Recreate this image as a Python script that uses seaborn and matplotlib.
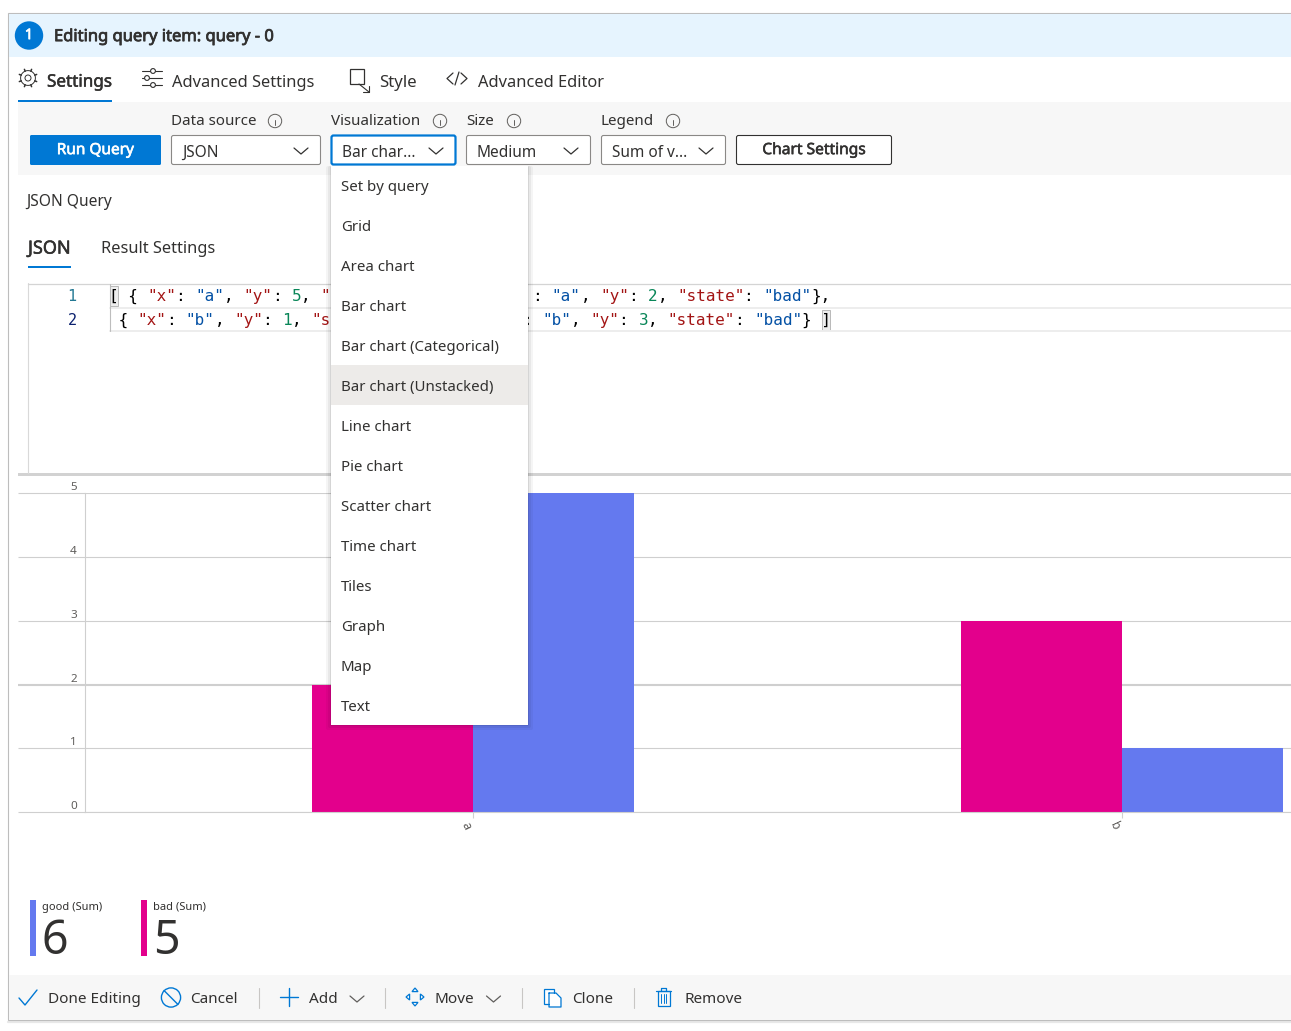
import matplotlib
matplotlib.use("Agg")
import matplotlib.pyplot as plt
import matplotlib.patheffects as pe
import seaborn as sns
import pandas as pd
import numpy as np
from matplotlib.patches import Rectangle, Circle, FancyBboxPatch, Polygon

# chart data
x_cats = ["a", "a", "b", "b"]
states = ["good", "bad", "good", "bad"]
y_vals = [5, 2, 1, 3]
legend_names = ["good (Sum)", "bad (Sum)"]
legend_vals = ["6", "5"]

# ui text
tabs = ["Settings", "Advanced Settings", "Style", "Advanced Editor"]
field_labels = ["Data source", "Visualization", "Size", "Legend"]
field_values = ["JSON", "Bar char...", "Medium", "Sum of v..."]
viz_options = ["Set by query", "Grid", "Area chart", "Bar chart", "Bar chart (Categorical)",
               "Bar chart (Unstacked)", "Line chart", "Pie chart", "Scatter chart", "Time chart",
               "Tiles", "Graph", "Map", "Text"]
good_color = "#6479EF"
bad_color = "#E3008C"
blue = "#0078D4"
text_col = "#323130"
grid_col = "#CFCFCF"
W, H = 1291, 1031
UI_FONT = "Noto Sans"

sns.set_theme(style="white")
plt.rcParams["font.family"] = UI_FONT

fig = plt.figure(figsize=(W / 100, H / 100), dpi=100, facecolor="white")


def pixel_axes(z):
    a = fig.add_axes([0, 0, 1, 1], zorder=z)
    a.set_xlim(0, W)
    a.set_ylim(H, 0)
    a.axis("off")
    a.patch.set_alpha(0)
    return a


ui = pixel_axes(0)
top = pixel_axes(2)


def rect(a, x0, y0, x1, y1, fc="none", ec="none", lw=1, z=1):
    a.add_patch(Rectangle((x0, y0), x1 - x0, y1 - y0, fc=fc, ec=ec, lw=lw, zorder=z))


def line(a, xs, ys, c="#605E5C", lw=1.0, z=3):
    a.plot(xs, ys, color=c, lw=lw, zorder=z, solid_capstyle="round", solid_joinstyle="round")


def txt(a, x, y, s, size=11.3, c=text_col, bold=0, ha="left", **kw):
    # the installed family renders one weight here, so heavier labels get a thin outline
    t = a.text(x, y + 1.6, s, fontsize=size, color=c, ha=ha, va="center", zorder=5, **kw)
    if bold:
        t.set_path_effects([pe.withStroke(linewidth=bold, foreground=c)])


def chevron(a, cx, cy, c="#323130", w=7, h=6, lw=0.9):
    line(a, [cx - w, cx, cx + w], [cy - h / 2, cy + h / 2, cy - h / 2], c=c, lw=lw)


def info(a, cx, cy):
    a.add_patch(Circle((cx, cy), 6.7, fc="none", ec="#605E5C", lw=0.7, zorder=3))
    line(a, [cx, cx], [cy - 1, cy + 3.5], lw=0.7)
    line(a, [cx, cx], [cy - 3.5, cy - 3.2], lw=0.7)


def dropdown(a, x0, x1, label, focused=False):
    ec = blue if focused else "#8A8886"
    a.add_patch(FancyBboxPatch((x0 + 0.5, 135.5), x1 - x0 - 1, 29, boxstyle="round,pad=0,rounding_size=2",
                               fc="white", ec=ec, lw=1.6 if focused else 0.8, zorder=2))
    txt(a, x0 + 11, 151, label, size=11.1)
    chevron(a, x1 - 20, 151)


# card and shadow
rect(ui, 7.5, 13, W + 5, 1020, fc="white", ec="#BDBDBD", lw=0.8)
ui.plot([8, W], [1021.5, 1021.5], color="#E8E8E8", lw=1.6, zorder=0)

# header strip
rect(ui, 9, 14, W, 57, fc="#E6F4FE")
ui.add_patch(Circle((29, 35.5), 14.2, fc=blue, ec="none", zorder=3))
txt(ui, 29, 34, "1", size=10.5, c="white", bold=0.5, ha="center")
txt(ui, 54, 35.5, "Editing query item: query - 0", size=11.9, bold=0.55)

# tabs
txt(ui, 47, 81, tabs[0], size=12.3, bold=0.35)
rect(ui, 18, 99.5, 112, 101.5, fc=blue, z=3)
txt(ui, 172, 81, tabs[1], size=11.8)
txt(ui, 379, 81, tabs[2], size=12.1)
txt(ui, 478, 81, tabs[3], size=11.8)

# gear icon
ui.add_patch(Circle((28, 78), 3.0, fc="none", ec="#323130", lw=0.7, zorder=3))
ui.add_patch(Circle((28, 78), 7.4, fc="none", ec="#323130", lw=0.7, zorder=3))
for ang in np.arange(0, 360, 45):
    t = np.deg2rad(ang + 22.5)
    line(ui, [28 + 7.4 * np.cos(t), 28 + 9.4 * np.cos(t)], [78 + 7.4 * np.sin(t), 78 + 9.4 * np.sin(t)], c="#323130", lw=1.1)
# sliders icon
for yy, kx in [(71, 153), (78, 147), (85, 153)]:
    line(ui, [142, 162], [yy, yy], c="#323130", lw=0.8)
    ui.add_patch(Circle((kx, yy), 2.4, fc="white", ec="#323130", lw=0.8, zorder=4))
# style icon
rect(ui, 349.5, 68.5, 364, 84, ec="#323130", lw=0.9, z=3)
line(ui, [359, 369], [84, 92], c="#323130", lw=0.8)
line(ui, [369, 369], [86, 92], c="#323130", lw=0.8)
line(ui, [363, 369], [92, 92], c="#323130", lw=0.8)
# code icon
line(ui, [453, 447, 453], [73, 78.5, 84], c="#323130", lw=0.9)
line(ui, [461, 467, 461], [73, 78.5, 84], c="#323130", lw=0.9)
line(ui, [455, 459], [85, 72], c="#323130", lw=0.9)

# toolbar
rect(ui, 18, 102, W, 175, fc="#F7F7F7")
ui.add_patch(FancyBboxPatch((30, 135), 131, 30, boxstyle="round,pad=0,rounding_size=1.5", fc=blue, ec="none", zorder=2))
txt(ui, 95.5, 148.5, "Run Query", size=11.1, c="white", bold=0.45, ha="center")
for lx, ix, s in zip([171, 331, 466, 601], [275, 440, 514, 673], field_labels):
    txt(ui, lx, 120, s, size=10.9)
    info(ui, ix, 121)
dropdown(ui, 171, 321, field_values[0])
dropdown(ui, 331, 456, field_values[1], focused=True)
dropdown(ui, 466, 591, field_values[2])
dropdown(ui, 601, 726, field_values[3])
ui.add_patch(FancyBboxPatch((736.5, 135.5), 155, 29, boxstyle="round,pad=0,rounding_size=2", fc="white", ec="#323130", lw=0.8, zorder=2))
txt(ui, 814, 148.5, "Chart Settings", size=11.2, bold=0.4, ha="center")

# query section
txt(ui, 26, 200.5, "JSON Query", size=11.2)
txt(ui, 28, 247, "JSON", size=13.0, bold=0.4)
rect(ui, 28, 265.5, 71, 267.5, fc=blue)
txt(ui, 101, 247, "Result Settings", size=11.8)

# editor
line(ui, [28, 28], [283, 473], c="#D9D9D9", lw=0.8)
line(ui, [28, W], [283.5, 283.5], c="#D4D4D4", lw=0.9)
line(ui, [110, W], [307.5, 307.5], c="#EDEDED", lw=1.4)
line(ui, [110, W], [331, 331], c="#EDEDED", lw=1.4)
line(ui, [110, 110], [284, 331], c="#BDBDBD", lw=0.8)
txt(ui, 72, 294.5, "1", size=11, c="#237893", ha="center", family="DejaVu Sans Mono")
txt(ui, 72, 318.5, "2", size=11, c="#0B216F", ha="center", family="DejaVu Sans Mono")
rect(ui, 110, 286, 118, 306, fc="#EEEEEE", ec="#B9B9B9", lw=0.7)
rect(ui, 822, 310, 830, 330, fc="#EEEEEE", ec="#B9B9B9", lw=0.7)

KEY, VAL, NUM, PUN = "#A31515", "#0451A5", "#098658", "#000000"
# the stretch under the open list is left as blanks so the columns stay put
code_lines = [
    [("[ { ", PUN), ('"x"', KEY), (": ", PUN), ('"a"', VAL), (", ", PUN), ('"y"', KEY), (": ", PUN), ("5", NUM), (", ", PUN),
     ('"', KEY), (" " * 21, PUN), (": ", PUN), ('"a"', VAL), (", ", PUN),
     ('"y"', KEY), (": ", PUN), ("2", NUM), (", ", PUN), ('"state"', KEY), (": ", PUN), ('"bad"', VAL), ("},", PUN)],
    [(" { ", PUN), ('"x"', KEY), (": ", PUN), ('"b"', VAL), (", ", PUN), ('"y"', KEY), (": ", PUN), ("1", NUM), (", ", PUN),
     ('"s', KEY), (" " * 20, PUN), (": ", PUN), ('"b"', VAL), (", ", PUN),
     ('"y"', KEY), (": ", PUN), ("3", NUM), (", ", PUN), ('"state"', KEY), (": ", PUN), ('"bad"', VAL), ("} ]", PUN)],
]
col_w = 9.63
for yy, toks in zip([296.5, 320.5], code_lines):
    col = 0
    for s, c in toks:
        if s.strip():
            ui.text(108.8 + col * col_w, yy, s, fontsize=11.55, color=c, family="DejaVu Sans Mono",
                    ha="left", va="center", zorder=5)
        col += len(s)

# divider above chart
rect(ui, 18, 473, W, 475.5, fc="#D2D2D2")

# chart
df = pd.DataFrame({"x": x_cats, "y": y_vals, "state": states})
ax = fig.add_axes([84.5 / W, (H - 812.3) / H, (W - 84.5) / W, 319.3 / H], zorder=1)
sns.barplot(data=df, x="x", y="y", hue="state", hue_order=["bad", "good"], order=["a", "b"],
            palette={"good": good_color, "bad": bad_color}, width=0.497, gap=0, saturation=1,
            legend=False, ax=ax, linewidth=0, err_kws={"linewidth": 0})
ax.patch.set_alpha(0)
ax.set_xlim((84.5 - 473) / 649, (W - 473) / 649)
ax.set_ylim(0, 5)
ax.set_xlabel("")
ax.set_ylabel("")
ax.set_yticks(range(0, 6))
ax.grid(axis="y", color=grid_col, lw=0.8, zorder=0)
ax.set_axisbelow(True)
for name in ["top", "right"]:
    ax.spines[name].set_visible(False)
for name in ["left", "bottom"]:
    ax.spines[name].set_color(grid_col)
    ax.spines[name].set_linewidth(0.8)
# long ticks run the grid out to the card edge
ax.tick_params(axis="y", left=True, length=48.2, width=0.8, color=grid_col, pad=-42.6, labelsize=8.4, labelcolor="#605E5C")
for lab in ax.get_yticklabels():
    lab.set_va("bottom")
ax.tick_params(axis="x", bottom=True, length=4, width=0.8, color=grid_col, pad=6, labelsize=9, labelcolor="#605E5C")
for lab in ax.get_xticklabels():
    lab.set_rotation(-65)
    lab.set_ha("right")
    lab.set_rotation_mode("anchor")
# the y=2 line comes out heavier in the reference
ax.get_ygridlines()[2].set_linewidth(1.5)
ax.yaxis.get_major_ticks()[2].tick1line.set_markeredgewidth(1.5)

# summary legend
for bx, tx, name, val, col in zip([30, 141], [43, 154], legend_names, legend_vals, [good_color, bad_color]):
    rect(ui, bx, 900, bx + 6, 956, fc=col)
    txt(ui, tx - 1, 905.5, name, size=8.0, c=text_col)
    txt(ui, tx - 1, 939.5, val, size=33.5, c=text_col)

# bottom command bar
rect(ui, 9, 975, W, 1020, fc="#F7F7F7")
for sx in [258.5, 384.5, 521.5, 633.5]:
    line(ui, [sx, sx], [988, 1008], c="#C8C6C4", lw=0.8)
for tx, s in zip([48, 190, 309, 435, 572, 684], ["Done Editing", "Cancel", "Add", "Move", "Clone", "Remove"]):
    txt(ui, tx, 998.2, s, size=11.0)
chevron(ui, 357, 999, c="#605E5C")
chevron(ui, 493.5, 999, c="#605E5C")
line(ui, [19, 25, 37], [998, 1005, 990], c=blue, lw=1.0)
ui.add_patch(Circle((171, 997.5), 9.6, fc="none", ec=blue, lw=1.0, zorder=3))
line(ui, [164, 178], [990.5, 1004.5], c=blue, lw=1.0)
line(ui, [280, 298], [997, 997], c=blue, lw=1.0)
line(ui, [289, 289], [988, 1006], c=blue, lw=1.0)
# move arrows
for dx, dy in [(0, -9), (0, 9), (-9, 0), (9, 0)]:
    ui.add_patch(Polygon([(415 + dx, 997 + dy),
                          (415 + dx * 0.6 + (3 if dy else 0), 997 + dy * 0.6 + (3 if dx else 0)),
                          (415 + dx * 0.6 - (3 if dy else 0), 997 + dy * 0.6 - (3 if dx else 0))],
                         closed=True, fc="none", ec=blue, lw=0.9, zorder=3))
# clone icon
rect(ui, 544, 989, 554, 1004, fc="white", ec=blue, lw=0.9)
rect(ui, 550, 994, 560, 1006, fc="white", z=2)
line(ui, [549, 556, 561, 561, 549, 549], [993, 993, 998, 1007, 1007, 993], c=blue, lw=0.9)
# trash icon
line(ui, [656, 671], [991, 991], c=blue, lw=0.9)
line(ui, [661, 661, 666, 666], [991, 988, 988, 991], c=blue, lw=0.9)
rect(ui, 657.5, 991, 669.5, 1006, ec=blue, lw=0.9, z=3)
for tx in [661, 663.5, 666]:
    line(ui, [tx, tx], [994, 1003], c=blue, lw=0.7)

# open dropdown list sits on top of chart
for i, a_ in zip([5, 3, 1], [0.04, 0.05, 0.08]):
    top.add_patch(FancyBboxPatch((331 - i, 166), 197 + 2 * i, 559 + i, boxstyle="round,pad=0,rounding_size=2",
                                 fc="black", ec="none", alpha=a_, zorder=1))
rect(top, 331, 166, 528, 725, fc="white", z=2)
rect(top, 331, 365, 528, 405, fc="#EDEBE9", z=3)
for i, s in enumerate(viz_options):
    txt(top, 341, 185.5 + 40 * i, s, size=10.8, c=text_col)

fig.savefig("out.png", dpi=100, facecolor="white")
